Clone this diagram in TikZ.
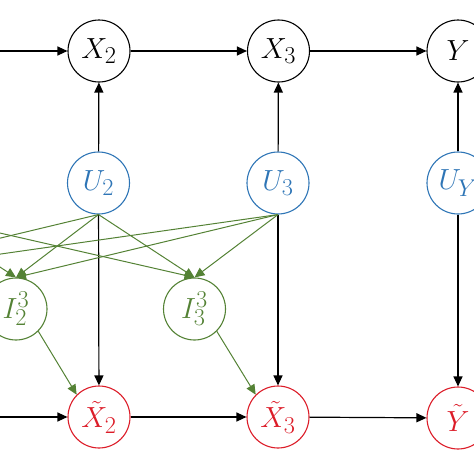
\documentclass[tikz,border=0pt]{standalone}
\usepackage{graphicx}
\usetikzlibrary{arrows.meta}
\definecolor{ublue}{RGB}{46,117,182}
\definecolor{igreen}{RGB}{84,130,53}
\definecolor{xred}{RGB}{220,28,40}
\newcommand{\lbl}[1]{\scalebox{1.17}{$#1$}}
\begin{document}
\begin{tikzpicture}[x=1pt,y=-1pt,
  nd/.style={circle, line width=1.1pt, minimum size=62pt, inner sep=0pt, font=\Huge},
  xnode/.style={nd, draw=black},
  unode/.style={nd, draw=ublue, text=ublue},
  inode/.style={nd, draw=igreen, text=igreen},
  tnode/.style={nd, draw=xred, text=xred},
  hid/.style={nd},
  arr/.style={-{Triangle[length=10pt,width=9pt]}, line width=1.2pt, black},
  garr/.style={-{Triangle[length=10pt,width=9pt]}, line width=1pt, igreen}]
\useasboundingbox (0,0) rectangle (474,474);
\clip (0,0) rectangle (474,474);
% top row
\node[hid] (X1) at (-81,51) {};
\node[xnode] (X2) at (99,51) {\lbl{X_2}};
\node[xnode] (X3) at (278.5,51) {\lbl{X_3}};
\node[xnode] (Y) at (458,51) {\lbl{Y}};
% noise row
\node[hid] (U1) at (-81,183) {};
\node[unode] (U2) at (98.5,183) {\lbl{U_2}};
\node[unode] (U3) at (278,183) {\lbl{U_3}};
\node[unode] (UY) at (458,183) {\lbl{U_Y}};
% intervention row
\node[hid] (I13) at (-164,309) {};
\node[inode] (I23) at (16,309) {\lbl{I_2^3}};
\node[inode] (I33) at (194.5,309) {\lbl{I_3^3}};
% counterfactual row
\node[hid] (XT1) at (-81,417) {};
\node[tnode] (XT2) at (99,417) {\lbl{\tilde{X}_2}};
\node[tnode] (XT3) at (278,417) {\lbl{\tilde{X}_3}};
\node[tnode] (YT) at (458,418) {\lbl{\tilde{Y}}};
% black arrows
\draw[arr] (X1) -- (X2);
\draw[arr] (X2) -- (X3);
\draw[arr] (X3) -- (Y);
\draw[arr] (U2) -- (X2);
\draw[arr] (U3) -- (X3);
\draw[arr] (UY) -- (Y);
\draw[arr] (U2) -- (XT2);
\draw[arr] (U3) -- (XT3);
\draw[arr] (UY) -- (YT);
\draw[arr] (XT1) -- (XT2);
\draw[arr] (XT2) -- (XT3);
\draw[arr] (XT3) -- (YT);
% green arrows
\foreach \u in {U1,U2,U3}{
  \foreach \i in {I13,I23,I33}{
    \draw[garr] (\u.south) -- (\i.north);
  }
}
\draw[garr] (I23.south east) -- (XT2.north west);
\draw[garr] (I33.south east) -- (XT3.north west);
\end{tikzpicture}
\end{document}
